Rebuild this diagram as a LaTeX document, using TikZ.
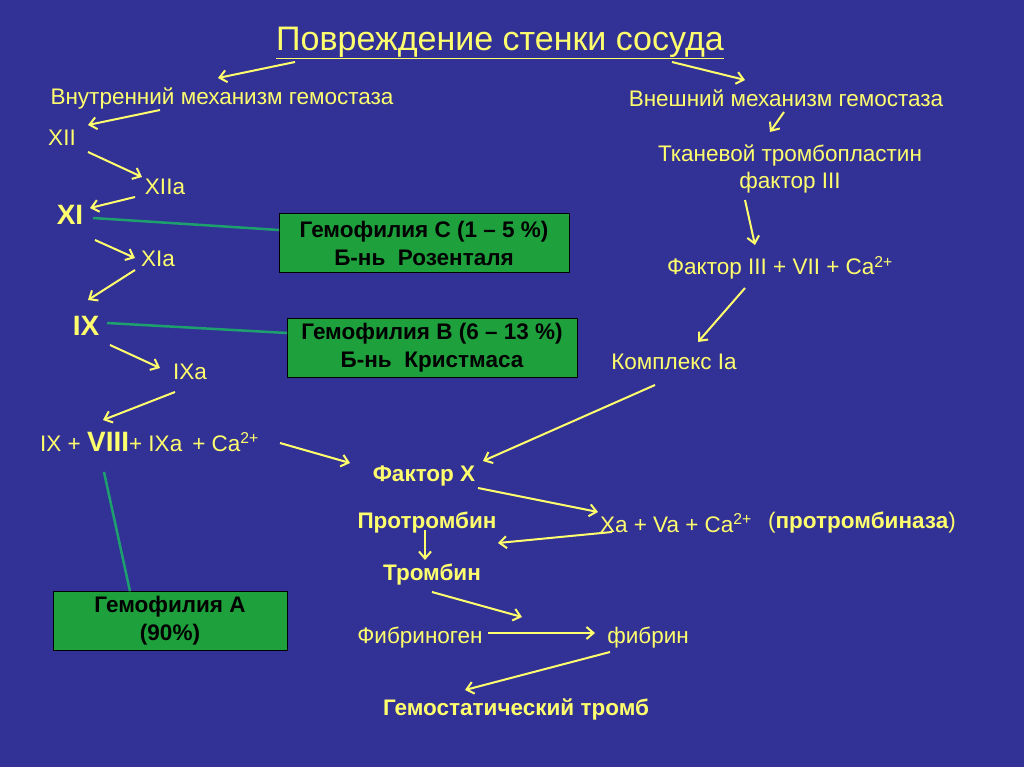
\documentclass[tikz,border=0pt]{standalone}
\usepackage{fontspec}
\setmainfont{Liberation Sans}
\usetikzlibrary{arrows.meta}
\definecolor{bgblue}{RGB}{50,50,150}
\definecolor{txtyellow}{RGB}{255,255,110}
\definecolor{boxgreen}{RGB}{30,160,60}
\definecolor{linegreen}{RGB}{30,160,110}
\newcommand\off[3]{([shift={(#2,#3)}]#1.center)}
\begin{document}
\begin{tikzpicture}[x=1pt,y=-1pt,
    every node/.style={
        text=txtyellow, font=\fontsize{22.5}{27}\selectfont, inner sep=3pt
    },
    bold/.style={font=\fontsize{22.5}{27}\selectfont\bfseries},
    big/.style={font=\fontsize{28}{30}\selectfont\bfseries},
    disease/.style={
        draw=black, fill=boxgreen, text=black, align=center,
        minimum width=290pt, minimum height=59pt,
        font=\fontsize{22.5}{28}\selectfont\bfseries
    },
    arr/.style={draw=txtyellow, line width=2pt, -{Straight Barb[length=7pt,width=12pt]}},
    link/.style={draw=linegreen, line width=2.5pt}
]
\fill[bgblue] (0,0) rectangle (1024,767);

\node (title) at (500,43) {\fontsize{34}{38}\selectfont\underline{Повреждение стенки сосуда}};
\node (intern) at (222,98) {Внутренний механизм гемостаза};
\node (extern) at (786,98) {Внешний механизм гемостаза};

% intrinsic chain
\node (xii)  at (62,138)  {XII};
\node (xiia) at (165,187) {XIIa};
\node (xi)   at (70,215)  [big] {XI};
\node (xia)  at (158,259) {XIa};
\node (ix)   at (86,326)  [big] {IX};
\node (ixa)  at (190,372) {IXa};
\node (tenase) at (40,442) [anchor=west, inner sep=0pt] {IX + \textbf{\fontsize{28}{30}\selectfont VIII}+ IXa\, + Ca\textsuperscript{2+}};
\coordinate (viii) at (104,472);

% extrinsic chain
\node (tissue) at (790,169) [align=center] {Тканевой тромбопластин\\фактор III};
\node (f7)   at (780,268) {Фактор III + VII + Ca\textsuperscript{2+}};
\node (cmplx) at (674,362) {Комплекс Ia};

% common pathway
\node (fx)    at (424,476) [bold] {Фактор Х};
\node (prot)  at (427,523) [bold] {Протромбин};
\node (xa)    at (676,523) {Xa + Va + Ca\textsuperscript{2+}};
\node (pase)  at (862,523) {(\textbf{протромбиназа})};
\node (thr)   at (432,575) [bold] {Тромбин};
\node (fbg)   at (420,638) {Фибриноген};
\node (fbn)   at (648,638) {фибрин};
\node (clot)  at (516,709) [bold] {Гемостатический тромб};

% diseases
\node (hemc) at (424,243) [disease] {Гемофилия С (1 – 5 \%)\\Б-нь\ \ Розенталя};
\node (hemb) at (432,348) [disease] {Гемофилия В (6 – 13 \%)\\Б-нь\ \ Кристмаса};
\node (hema) at (170,621) [disease, minimum width=234pt] {Гемофилия А\\(90\%)};

\draw[arr] \off{title}{-205}{19} -- \off{intern}{-4}{-20};
\draw[arr] \off{title}{172}{19} -- \off{extern}{-41}{-18};
\draw[arr] \off{intern}{-62}{12} -- \off{xii}{26}{-13};
\draw[arr] \off{xii}{26}{14} -- \off{xiia}{-23}{-10};
\draw[arr] \off{xiia}{-30}{10} -- \off{xi}{20}{-7};
\draw[arr] \off{xi}{25}{25} -- \off{xia}{-23}{-1};
\draw[arr] \off{xia}{-23}{11} -- \off{ix}{2}{-26};
\draw[arr] \off{ix}{24}{19} -- \off{ixa}{-30}{-4};
\draw[arr] \off{ixa}{-15}{20} -- ([shift={(63,-22)}]tenase.west);
\draw[arr] ([shift={(240,1)}]tenase.west) -- \off{fx}{-74}{-13};
\draw[arr] \off{extern}{-2}{14} -- \off{tissue}{-20}{-37};
\draw[arr] \off{tissue}{-45}{31} -- \off{f7}{-25}{-23};
\draw[arr] \off{f7}{-35}{20} -- \off{cmplx}{24}{-20};
\draw[arr] \off{cmplx}{-19}{23} -- \off{fx}{59}{-15};
\draw[arr] \off{fx}{54}{12} -- \off{xa}{-78}{-11};
\draw[arr] \off{xa}{-64}{9} -- \off{prot}{71}{20};
\draw[arr] \off{prot}{-2}{7} -- \off{thr}{-7}{-15};
\draw[arr] \off{thr}{0}{17} -- \off{fbn}{-126}{-21};
\draw[arr] \off{fbg}{68}{-5} -- \off{fbn}{-53}{-5};
\draw[arr] \off{fbn}{-38}{14} -- \off{clot}{-51}{-19};

\draw[link] \off{xi}{23}{3} -- \off{hemc}{-145}{-13};
\draw[link] \off{ix}{21}{-3} -- \off{hemb}{-145}{-15};
\draw[link] (viii) -- (hema.north -| 130,0);
\end{tikzpicture}
\end{document}
